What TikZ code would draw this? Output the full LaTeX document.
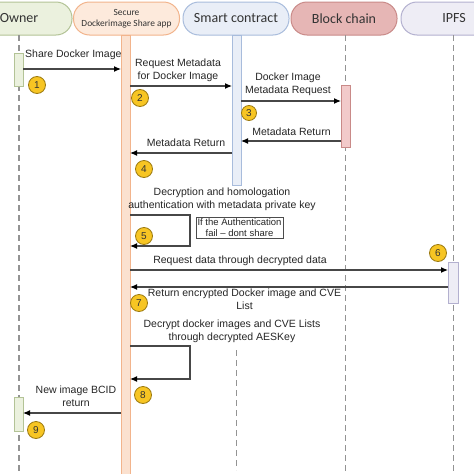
\documentclass[tikz,border=0pt]{standalone}
\usepackage{fontspec}
\setmainfont{Liberation Sans}
\newfontfamily\hdrfont{Carlito}
\usetikzlibrary{arrows.meta}
\definecolor{ownerfill}{HTML}{EBF1DE}
\definecolor{ownerdraw}{HTML}{B3C396}
\definecolor{secfill}{HTML}{FDEADC}
\definecolor{secdraw}{HTML}{F2B48C}
\definecolor{secbar}{HTML}{FBE1CF}
\definecolor{smfill}{HTML}{E9EEF7}
\definecolor{smdraw}{HTML}{A8BCDC}
\definecolor{bcfill}{HTML}{E6B6B5}
\definecolor{bcdraw}{HTML}{C98A88}
\definecolor{bcbar}{HTML}{F2CACA}
\definecolor{ipfill}{HTML}{EEEDF5}
\definecolor{ipdraw}{HTML}{B3B0CF}
\definecolor{numfill}{HTML}{F7C523}
\definecolor{numdraw}{HTML}{9C7A10}
\begin{document}
\begin{tikzpicture}[x=1pt,y=-1pt,
  hdr/.style={draw, line width=1pt, rounded corners=16pt, minimum width=106pt, minimum height=33pt, inner sep=0pt, text=black!80, font=\hdrfont\fontsize{14}{16}\selectfont},
  bar/.style={draw, line width=0.8pt, minimum width=9pt, inner sep=0pt},
  life/.style={draw=gray!85, line width=1.3pt, dash pattern=on 6pt off 4pt},
  msg/.style={draw=black!72, line width=1.1pt, -{Latex[length=7pt,width=6pt,color=black]}},
  lbl/.style={font=\fontsize{10.5}{13}\selectfont, text=black!85, inner sep=0pt, align=center},
  num/.style={circle, draw=numdraw, line width=0.8pt, fill=numfill, minimum size=17pt, inner sep=0pt, text=black!80, font=\fontsize{10}{10}\selectfont},
  notebox/.style={draw=black!70, line width=0.8pt, fill=white, inner sep=1.5pt, align=center, text=black!85, font=\fontsize{9.5}{11}\selectfont}
]
\useasboundingbox (0,0) rectangle (474,474);
\clip (0,0) rectangle (474,474);
\fill[white] (0,0) rectangle (474,474);

% headers
\node[hdr, fill=ownerfill, draw=ownerdraw] (owner) at (19,18.5) {Owner};
\node[hdr, fill=secfill, draw=secdraw, font=\hdrfont\fontsize{9.4}{11}\selectfont, align=center] (secure) at (126.5,18.5) {Secure\\Dockerimage Share app};
\node[hdr, fill=smfill, draw=smdraw] (smart) at (236,18.5) {Smart contract};
\node[hdr, fill=bcfill, draw=bcdraw] (block) at (344,18.5) {Block chain};
\node[hdr, fill=ipfill, draw=ipdraw] (ipfs) at (454,18.5) {IPFS};

% lifelines
\coordinate (ownerTop) at (19,35);
\coordinate (ownerBot) at (19,472);
\coordinate (smTop) at (236.5,350);
\coordinate (smBot) at (236.5,470);
\coordinate (bcTop) at (345.5,35);
\coordinate (bcBot) at (345.5,472);
\coordinate (ipTop) at (453.5,35);
\coordinate (ipBot) at (453.5,472);
\draw[life] (ownerTop) -- (ownerBot);
\draw[life] (smTop) -- (smBot);
\draw[life] (bcTop) -- (bcBot);
\draw[life] (ipTop) -- (ipBot);

% activation bars
\node[bar, fill=ownerfill, draw=ownerdraw, minimum height=33pt] (ob1) at (18.5,69.5) {};
\node[bar, fill=ownerfill, draw=ownerdraw, minimum height=34pt] (ob2) at (18.5,414) {};
\node[bar, fill=secbar, draw=secdraw, minimum height=460pt] (sb) at (125.5,265) {};
\node[bar, fill=smfill, draw=smdraw, minimum height=150pt] (smb) at (236.5,110) {};
\node[bar, fill=bcbar, draw=bcdraw, minimum height=62pt] (bcb) at (345.5,116) {};
\node[bar, fill=ipfill, draw=ipdraw, minimum height=41pt, minimum width=10pt] (ipb) at (453,282.5) {};

% endpoints
\coordinate (m1a) at (23,69);   \coordinate (m1b) at (121,69);
\coordinate (m2a) at (130,86);  \coordinate (m2b) at (232,86);
\coordinate (m3a) at (241,101); \coordinate (m3b) at (341,101);
\coordinate (m4a) at (341,141); \coordinate (m4b) at (241,141);
\coordinate (m5a) at (232,153); \coordinate (m5b) at (130,153);
\coordinate (l5a) at (130,215); \coordinate (l5b) at (190,215);
\coordinate (l5c) at (190,246); \coordinate (l5d) at (130,246);
\coordinate (m6a) at (130,270); \coordinate (m6b) at (448,270);
\coordinate (m7a) at (448,287); \coordinate (m7b) at (130,287);
\coordinate (l8a) at (130,346); \coordinate (l8b) at (190,346);
\coordinate (l8c) at (190,379); \coordinate (l8d) at (130,379);
\coordinate (m9a) at (121,413); \coordinate (m9b) at (23,413);

\draw[msg] (m1a) -- (m1b);
\draw[msg] (m2a) -- (m2b);
\draw[msg] (m3a) -- (m3b);
\draw[msg] (m4a) -- (m4b);
\draw[msg] (m5a) -- (m5b);
\draw[msg] (l5a) -- (l5b) -- (l5c) -- (l5d);
\draw[msg] (m6a) -- (m6b);
\draw[msg] (m7a) -- (m7b);
\draw[msg] (l8a) -- (l8b) -- (l8c) -- (l8d);
\draw[msg] (m9a) -- (m9b);

% labels
\node[lbl, anchor=west] (t1) at (25,55) {Share Docker Image};
\node[lbl] (t2) at (178,70.5) {Request Metadata\\for Docker Image};
\node[lbl] (t3) at (288,84) {Docker Image\\Metadata Request};
\node[lbl] (t4a) at (291.5,132) {Metadata Return};
\node[lbl] (t4b) at (186,143) {Metadata Return};
\node[lbl] (t5) at (222,199) {Decryption and homologation\\authentication with metadata private key};
\node[notebox] (note) at (239.5,227.5) {If the Authentication\\fail -- dont share};
\node[lbl] (t6) at (240,261) {Request data through decrypted data};
\node[lbl] (t7) at (244.5,299.5) {Return encrypted Docker image and CVE\\List};
\node[lbl] (t8) at (232,331.5) {Decrypt docker images and CVE Lists\\through decrypted AESKey};
\node[lbl] (t9) at (76,396) {New image BCID\\return};

% numbers
\node[num] (c1) at (37,85) {1};
\node[num] (c2) at (140,98) {2};
\node[num, minimum size=15pt] (c3) at (249,113) {3};
\node[num] (c4) at (144,169) {4};
\node[num] (c5) at (144,236) {5};
\node[num] (c6) at (438,253) {6};
\node[num] (c7) at (139,303) {7};
\node[num] (c8) at (143,395) {8};
\node[num] (c9) at (36,430) {9};
\end{tikzpicture}
\end{document}
